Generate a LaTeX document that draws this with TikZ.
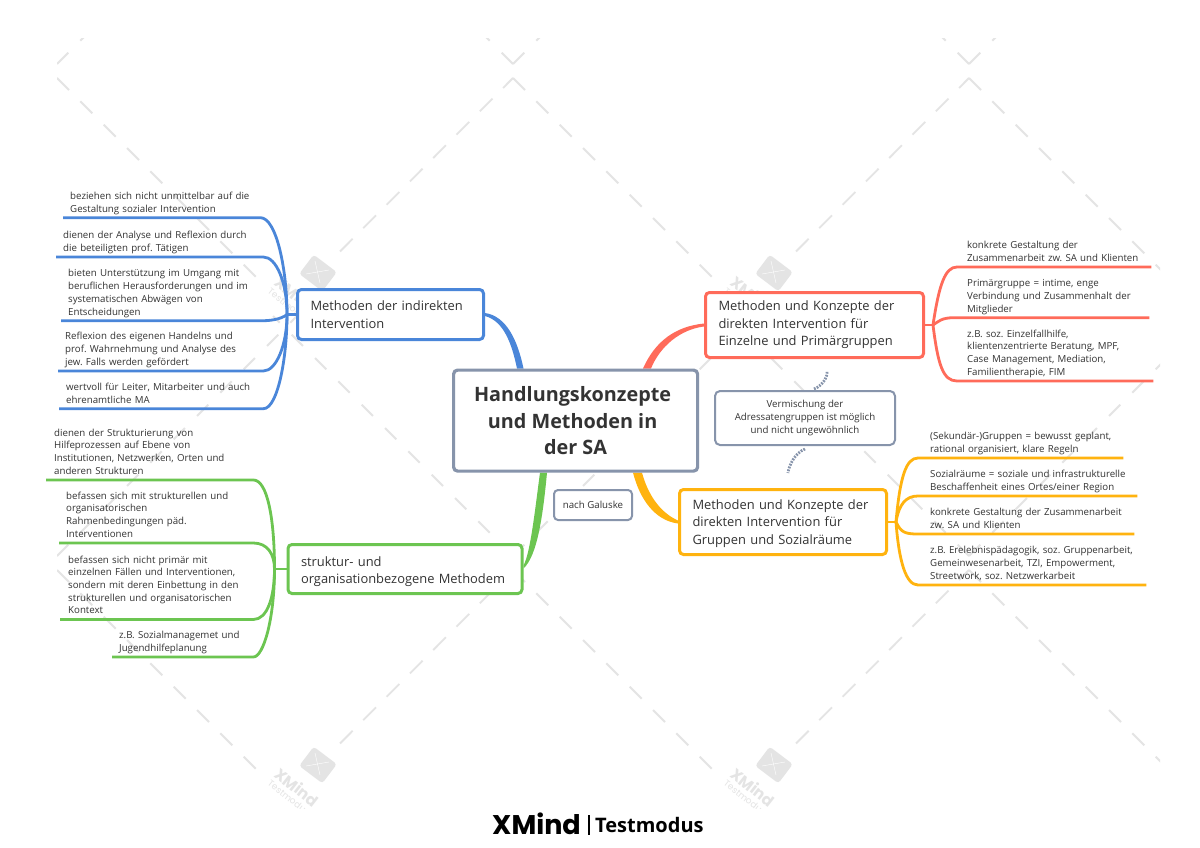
\documentclass[tikz,border=0pt]{standalone}
\usepackage{fontspec}
\setmainfont{Open Sans}
\newfontfamily\logofont{Poppins}
\usetikzlibrary{calc}
\pgfdeclarelayer{wmlayer}
\pgfdeclarelayer{linklayer}
\pgfsetlayers{wmlayer,linklayer,main}
\definecolor{cbl}{HTML}{4A86D9}
\definecolor{cgr}{HTML}{6CC551}
\definecolor{crd}{HTML}{FF6B5A}
\definecolor{cyl}{HTML}{FFB30F}
\definecolor{cgy}{HTML}{8794AB}
\definecolor{ctx}{HTML}{333333}
\definecolor{cwm}{HTML}{E4E4E4}
\frenchspacing
\newcommand\lsk[2]{\leftskip=#1pt\rightskip=-40pt plus 1fil\relax #2\rule[-3pt]{0pt}{9pt}\par}
\tikzset{
  leaf/.style={anchor=south west,inner xsep=0pt,inner ysep=2.5pt,align=left,text=ctx,
    font=\fontsize{9.7}{12.7}\selectfont},
  parent/.style={draw=#1,line width=3pt,rounded corners=4pt,fill=white,anchor=north west,inner xsep=13pt,inner ysep=0pt,
    align=left,text=ctx,font=\fontsize{12.9}{17.6}\selectfont},
  lnk/.style={draw=#1,line width=2.8pt,line cap=butt,line join=round},
  wmdash/.style={draw=cwm,line width=1.8pt},
}
\newcommand\ptext[2][0pt]{\rightskip=-40pt plus 1fil\relax\rule{0pt}{#1}#2\par}
\begin{document}
\begin{tikzpicture}[x=1pt,y=-1pt]
\useasboundingbox (0,0) rectangle (1200,848);
% watermark
\begin{pgfonlayer}{wmlayer}
\fill[white] (0,0) rectangle (1200,848);
\begin{scope}
\clip (57,39) rectangle (1160,808);
\foreach \ax in {57,513,969}{
  \draw[wmdash,dash pattern=on 17 off 16] (\ax,78) -- +(199,199);
  \draw[wmdash,dash pattern=on 18 off 15,dash phase=4] (\ax,78) -- +(-173,173.5);
  \draw[wmdash,dash pattern=on 16 off 17] (\ax,64) -- +(-30,-30);
  \draw[wmdash,dash pattern=on 16 off 17] (\ax,64) -- +(30,-30);
  \draw[wmdash,dash pattern=on 16 off 17] (\ax,556) -- +(-240,-240);
  \draw[wmdash,dash pattern=on 16 off 17] (\ax,556) -- +(240,-240);
  \draw[wmdash,dash pattern=on 17 off 16] (\ax,570) -- +(199,199);
  \draw[wmdash,dash pattern=on 18 off 15,dash phase=4] (\ax,570) -- +(-173,173.5);
}
\end{scope}
\foreach \lx/\ly/\cy in {318/273/316,774/273/316,318/765/808,774/765/808}{
  \begin{scope}
  \clip (\lx-80,\ly-40) rectangle (\lx+40,\cy);
  \node[fill=cwm,rounded corners=3pt,minimum width=29pt,minimum height=24pt,inner sep=0pt,rotate=-37] at (\lx,\ly) {};
  \draw[white,line width=.4pt] (\lx-3,\ly-12) -- (\lx+2,\ly+10);
  \draw[white,line width=.4pt] (\lx-12,\ly+1) -- (\lx+11,\ly-3);
  \node[rotate=-38,text=cwm,inner sep=0pt,font=\logofont\bfseries\fontsize{15.5}{15.5}\selectfont] at (\lx-21,\ly+22) {XMind};
  \node[rotate=-38,anchor=west,text=cwm,inner sep=0pt,font=\logofont\fontsize{9}{9}\selectfont] at (\lx-49,\ly+17) {Testmodus};
  \end{scope}
}
\end{pgfonlayer}
% central and parents
\node[draw=cgy,line width=3.2pt,rounded corners=4pt,fill=white,minimum width=244pt,minimum height=101pt,inner sep=0pt,
  anchor=north west,align=center,text=ctx,font=\bfseries\fontsize{19.8}{26.6}\selectfont] (c) at (452,368.5)
  {Handlungskonzepte\kern6pt\\und Methoden in\kern6pt\\der SA};
\node[draw=cgy,line width=2pt,rounded corners=4pt,fill=white,minimum width=78pt,minimum height=30pt,inner sep=0pt,
  anchor=north west,align=center,text=ctx,font=\fontsize{9.7}{12.7}\selectfont] (gal) at (553,489) {nach Galuske};
\node[draw=cgy,line width=2pt,rounded corners=5pt,fill=white,minimum width=180pt,minimum height=54pt,inner sep=0pt,
  anchor=north west,align=center,text=ctx,font=\fontsize{9.7}{12.7}\selectfont] (note) at (714,390)
  {Vermischung der\\Adressatengruppen ist möglich\\und nicht ungewöhnlich};
\node[parent=cbl,text width=160pt,minimum height=50pt] (m1) at (296,288)
  {\ptext{Methoden der indirekten\\Intervention}};
\node[parent=cgr,text width=208pt,minimum height=49pt] (m2) at (286.5,543)
  {\ptext[15pt]{struktur- und\\organisationbezogene Methodem}};
\node[parent=crd,text width=192pt,minimum height=65pt] (m3) at (704,291)
  {\ptext{Methoden und Konzepte der\\direkten Intervention für\\Einzelne und Primärgruppen}};
\node[parent=cyl,text width=181pt,minimum height=65pt] (m4) at (678,488)
  {\ptext[13pt]{Methoden und Konzepte der\\direkten Intervention für\\Gruppen und Sozialräume}};
% leaves
\node[leaf,text width=197pt] (b1) at (63,217.7) {\lsk{7}{beziehen sich nicht unmittelbar auf die\\Gestaltung sozialer Intervention}};
\node[leaf,text width=207pt] (b2) at (56,257) {\lsk{7}{dienen der Analyse und Reflexion durch\\die beteiligten prof. Tätigen}};
\node[leaf,text width=202pt] (b3) at (61,320.7) {\lsk{7}{bieten Unterstützung im Umgang mit\\beruflichen Herausforderungen und im\\systematischen Abwägen von\\Entscheidungen}};
\node[leaf,text width=205pt] (b4) at (58,371) {\lsk{7}{Reflexion des eigenen Handelns und\\prof. Wahrnehmung und Analyse des\\jew. Falls werden gefördert}};
\node[leaf,text width=204pt] (b5) at (59,408.7) {\lsk{7}{wertvoll für Leiter, Mitarbeiter und auch\\ehrenamtliche MA}};
\node[leaf,text width=207pt] (g1) at (46,480) {\lsk{8}{dienen der Strukturierung von\\Hilfeprozessen auf Ebene von\\Institutionen, Netzwerken, Orten und\\anderen Strukturen}};
\node[leaf,text width=194pt] (g2) at (59,543) {\lsk{7}{befassen sich mit strukturellen und\\organisatorischen\\Rahmenbedingungen päd.\\Interventionen}};
\node[leaf,text width=193pt] (g3) at (60,619.5) {\lsk{8}{befassen sich nicht primär mit\\einzelnen Fällen und Interventionen,\\sondern mit deren Einbettung in den\\strukturellen und organisatorischen\\Kontext}};
\node[leaf,text width=141pt] (g4) at (112,657) {\lsk{7}{z.B. Sozialmanagemet und\\Jugendhilfeplanung}};
\node[leaf,text width=194pt] (r1) at (957,267) {\lsk{10}{konkrete Gestaltung der\\Zusammenarbeit zw. SA und Klienten}};
\node[leaf,text width=195pt] (r2) at (954,317.7) {\lsk{13}{Primärgruppe = intime, enge\\Verbindung und Zusammenhalt der\\Mitglieder}};
\node[leaf,text width=196pt] (r3) at (957,381) {\lsk{10}{z.B. soz. Einzelfallhilfe,\\klientenzentrierte Beratung, MPF,\\Case Management, Mediation,\\Familientherapie, FIM}};
\node[leaf,text width=205pt] (y1) at (918,458) {\lsk{12}{(Sekundär-)Gruppen = bewusst geplant,\\rational organisiert, klare Regeln}};
\node[leaf,text width=219pt] (y2) at (918,496) {\lsk{12}{Sozialräume = soziale und infrastrukturelle\\Beschaffenheit eines Ortes/einer Region}};
\node[leaf,text width=216pt] (y3) at (918,534) {\lsk{12}{konkrete Gestaltung der Zusammenarbeit\\zw. SA und Klienten}};
\node[leaf,text width=228pt] (y4) at (918,585) {\lsk{12}{z.B. Erelebnispädagogik, soz. Gruppenarbeit,\\Gemeinwesenarbeit, TZI, Empowerment,\\Streetwork, soz. Netzwerkarbeit}};
% footer
\node[anchor=west,inner sep=0pt,text=black,font=\logofont\bfseries\fontsize{27}{27}\selectfont] (xm) at (492,824) {XMind};
\node[anchor=west,inner sep=0pt,text=black,font=\bfseries\fontsize{20}{20}\selectfont] (tm) at (595,825) {Testmodus};
\coordinate (xa) at (589,815);
\coordinate (xb) at (589,835);
\draw[black,line width=1.2pt] (xa) -- (xb);
% connectors
\begin{pgfonlayer}{linklayer}
\coordinate (bh) at ([xshift=-9pt]m1.west);
\draw[lnk=cbl] (m1.west) -- (bh);
\draw[lnk=cbl] (bh) .. controls +(0,-45) and +(16,0) .. (b1.south east) -- (b1.south west);
\draw[lnk=cbl] (bh) .. controls +(0,-32) and +(13,0) .. (b2.south east) -- (b2.south west);
\draw[lnk=cbl] (bh) .. controls +(-6,5) and +(6,0) .. (b3.south east) -- (b3.south west);
\draw[lnk=cbl] (bh) .. controls +(0,30) and +(13,0) .. (b4.south east) -- (b4.south west);
\draw[lnk=cbl] (bh) .. controls +(0,45) and +(14,0) .. (b5.south east) -- (b5.south west);
\coordinate (gh) at ([xshift=-12pt]m2.west);
\draw[lnk=cgr] (m2.west) -- (gh);
\draw[lnk=cgr] (gh) .. controls +(0,-50) and +(14,0) .. (g1.south east) -- (g1.south west);
\draw[lnk=cgr] (gh) .. controls +(0,-15) and +(14,0) .. (g2.south east) -- (g2.south west);
\draw[lnk=cgr] (gh) .. controls +(0,28) and +(14,0) .. (g3.south east) -- (g3.south west);
\draw[lnk=cgr] (gh) .. controls +(0,50) and +(10,0) .. (g4.south east) -- (g4.south west);
\coordinate (rh) at ([xshift=8pt]m3.east);
\draw[lnk=crd] (m3.east) -- (rh);
\draw[lnk=crd] (rh) .. controls +(6,-40) and +(-12,0) .. (r1.south west) -- (r1.south east);
\draw[lnk=crd] (rh) .. controls +(6,-4) and +(-12,0) .. (r2.south west) -- (r2.south east);
\draw[lnk=crd] (rh) .. controls +(5,40) and +(-14,0) .. (r3.south west) -- (r3.south east);
\coordinate (yh) at ([xshift=8pt]m4.east);
\draw[lnk=cyl] (m4.east) -- (yh);
\draw[lnk=cyl] (yh) .. controls +(4,-45) and +(-12,0) .. (y1.south west) -- (y1.south east);
\draw[lnk=cyl] (yh) .. controls +(3,-18) and +(-12,0) .. (y2.south west) -- (y2.south east);
\draw[lnk=cyl] (yh) .. controls +(5,10) and +(-14,0) .. (y3.south west) -- (y3.south east);
\draw[lnk=cyl] (yh) .. controls +(3,40) and +(-12,0) .. (y4.south west) -- (y4.south east);
% tapered main branches
\fill[cbl] ([yshift=1.5pt]m1.east) .. controls +(21,3) and +(-6,-29) .. ([xshift=71.5pt]c.north west)
  -- ([xshift=65pt]c.north west) .. controls +(-5,-24) and +(19,5) .. ([yshift=-1.5pt]m1.east) -- cycle;
\fill[crd] ([yshift=1.5pt]m3.west) .. controls +(-29,3) and +(12,-27) .. ([xshift=191pt]c.north west)
  -- ([xshift=199pt]c.north west) .. controls +(9,-22) and +(-24,3) .. ([yshift=-1.5pt]m3.west) -- cycle;
\fill[cgr] ([yshift=3.5pt]m2.east) .. controls +(7,-13) and +(-5,37) .. ([xshift=88pt]c.south west)
  -- ([xshift=95pt]c.south west) .. controls +(-4,42) and +(14,-13) .. ([yshift=0.5pt]m2.east) -- cycle;
\fill[cyl] ([yshift=-1.5pt]m4.west) .. controls +(-23,-3) and +(7,27) .. ([xshift=181pt]c.south west)
  -- ([xshift=190pt]c.south west) .. controls +(6,22) and +(-18,-8) .. ([yshift=1.5pt]m4.west) -- cycle;
\end{pgfonlayer}
% note callouts
\coordinate (na) at (827,371);
\coordinate (nb) at (788,473);
\draw[cgy,line width=2.8pt,dash pattern=on 1.8 off 1.2] ([xshift=9pt,yshift=1pt]note.north) .. controls +(8,-3) and +(1,6) .. (na);
\draw[cgy,line width=2.8pt,dash pattern=on 1.8 off 1.2] ([yshift=-3pt]note.south) .. controls +(-10,4) and +(1,-8) .. (nb);
\end{tikzpicture}
\end{document}
